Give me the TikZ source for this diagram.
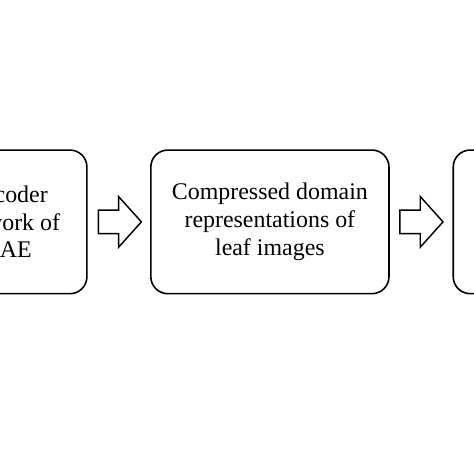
\documentclass[tikz,border=0pt]{standalone}
\usepackage{fontspec}
\setmainfont{Liberation Serif}
\usetikzlibrary{shapes.arrows, calc}

\begin{document}
\begin{tikzpicture}[
    box/.style={draw, line width=1.2pt, rounded corners=0.45cm, minimum height=3.8cm, align=center, font=\fontsize{18}{21}\selectfont},
    flow/.style={single arrow, draw, line width=1.1pt, inner xsep=0pt, inner ysep=0.29cm, minimum height=1.14cm, minimum width=1.30cm, single arrow head extend=0.36cm, single arrow tip angle=96, anchor=tail}
]
    \clip (0,0) rectangle (12.54,12.54);

    % Stages
    \node[box, minimum width=4.18cm] (encoder) at (0.21,6.67) {Encoder\\network of\\CAE};
    \node[box, minimum width=6.30cm] (compressed) at (7.14,6.67) {Compressed domain\\representations of\\leaf images};
    \node[box, minimum width=6.30cm] (next) at (15.14,6.67) {};

    % Block arrows
    \node[flow] (a1) at ($(encoder.east)+(0.26,0)$) {};
    \node[flow] (a2) at ($(compressed.east)+(0.25,0)$) {};
\end{tikzpicture}
\end{document}
